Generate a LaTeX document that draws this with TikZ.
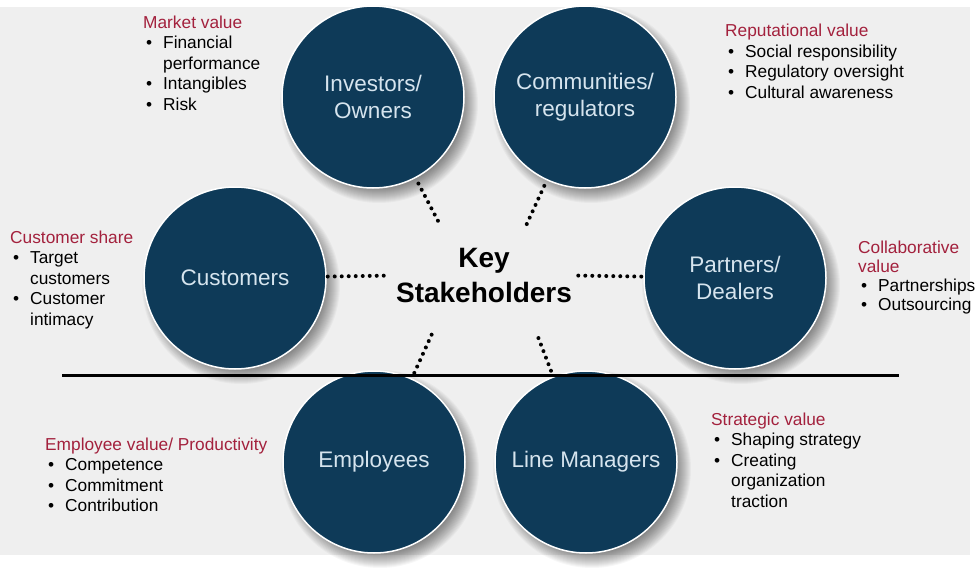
\documentclass[tikz,border=0pt]{standalone}
\usepackage{fontspec}
\setmainfont{Liberation Sans}
\definecolor{navy}{RGB}{14,58,88}
\definecolor{ringtext}{RGB}{214,228,238}
\definecolor{valred}{RGB}{163,33,61}
\definecolor{panel}{RGB}{239,239,239}
\newcommand{\hdr}[1]{\textcolor{valred}{\strut #1}}
\newcommand{\blt}{\hspace*{3pt}\makebox[17pt][l]{\textbullet}}
\newcommand{\cnt}{\hspace*{20pt}}
\begin{document}
\begin{tikzpicture}[x=1pt,y=-1pt,
  stakeholder/.style={circle,fill=navy,draw=white,line width=1.5pt,minimum size=182pt,inner sep=0pt,
    text=ringtext,align=center,font=\fontsize{22.5}{27}\selectfont},
  dotlink/.style={line width=4pt,line cap=round,dash pattern=on 0pt off 7pt},
  note/.style={anchor=north west,inner sep=0pt,align=left,font=\fontsize{17.3}{20.5}\selectfont},
  keynode/.style={inner sep=0pt,align=center,minimum width=178pt,minimum height=55pt,
    font=\fontsize{28}{35}\selectfont\bfseries}]
\useasboundingbox (0,0) rectangle (975,570);
\fill[white] (0,0) rectangle (975,570);
\fill[panel] (0,7) rectangle (970,555);
% soft shadows
\foreach \cx/\cy in {373/97,585/97,235/278,735/278,374/462,586/462}{
  \foreach \r in {82,...,99}{\fill[black,opacity=0.03] (\cx+6,\cy+7) circle (\r pt);}
}
% stakeholder circles
\node[stakeholder] (inv) at (373,97) {Investors/\\Owners};
\node[stakeholder] (com) at (585,97) {Communities/\\regulators};
\node[stakeholder] (cus) at (235,278) {Customers};
\node[stakeholder] (par) at (735,278) {Partners/\\Dealers};
\node[stakeholder] (emp) at (374,462) {Employees};
\node[stakeholder] (lin) at (586,462) {Line Managers};
\node[keynode] (key) at (484,275.5) {Key\\Stakeholders};
% dotted links
\draw[dotlink,shorten <=6pt,shorten >=29pt] (inv) -- (key.139);
\draw[dotlink,shorten <=6pt,shorten >=25pt] (com) -- (key.41.6);
\draw[dotlink,shorten <=1pt,shorten >=8pt] (cus) -- (key.west);
\draw[dotlink,shorten <=2pt,shorten >=2pt] (par) -- (key.east);
\draw[dotlink,shorten <=6pt,shorten >=33pt] (emp) -- (key.216.3);
\draw[dotlink,shorten <=6pt,shorten >=33pt] (lin) -- (key.326.7);
% value notes
\node[note] (mkt) at (143,13.6) {\hdr{Market value}\\ \blt Financial\\ \cnt performance\\ \blt Intangibles\\ \blt Risk};
\node[note] (rep) at (725,22.3) {\hdr{Reputational value}\\ \blt Social responsibility\\ \blt Regulatory oversight\\ \blt Cultural awareness};
\node[note] (csh) at (10,228.6) {\hdr{Customer share}\\ \blt Target\\ \cnt customers\\ \blt Customer\\ \cnt intimacy};
\node[note,font=\fontsize{17.3}{19}\selectfont] (col) at (858,239.6) {\hdr{Collaborative}\\ \textcolor{valred}{value}\\ \blt Partnerships\\ \blt Outsourcing};
\node[note] (evp) at (45,435.6) {\hdr{Employee value/ Productivity}\\ \blt Competence\\ \blt Commitment\\ \blt Contribution};
\node[note] (stv) at (711,410.6) {\hdr{Strategic value}\\ \blt Shaping strategy\\ \blt Creating\\ \cnt organization\\ \cnt traction};
% divider
\draw[line width=3pt] (62,375) -- (899,375);
\end{tikzpicture}
\end{document}
